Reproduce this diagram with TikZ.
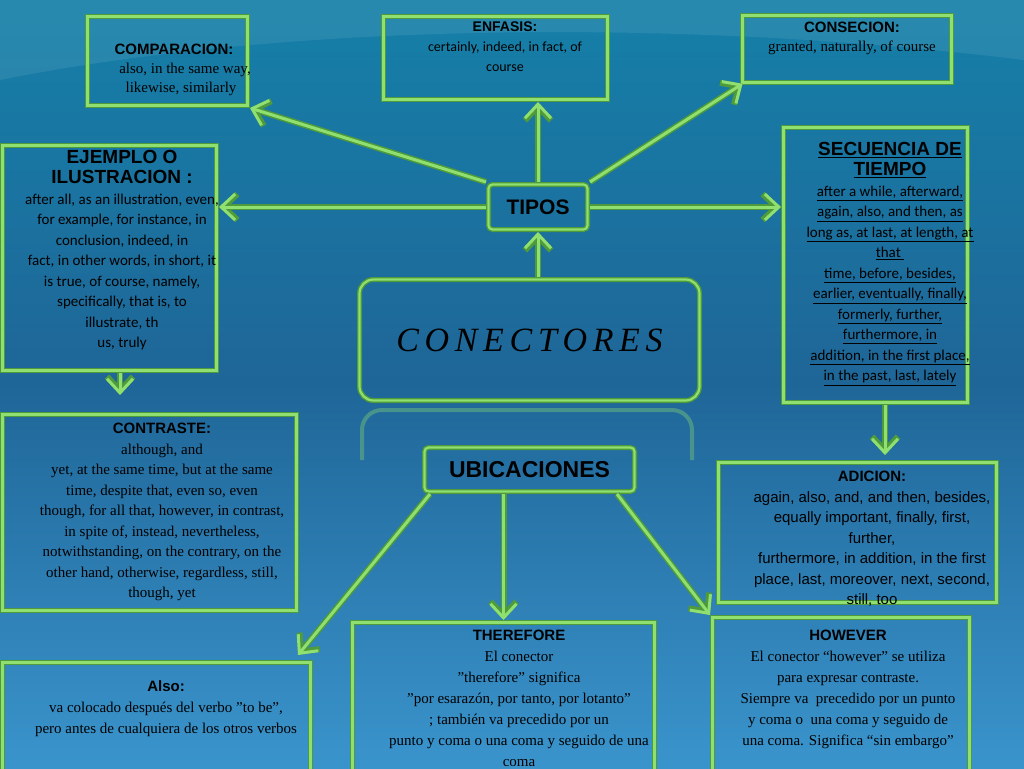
\documentclass[tikz,border=0pt]{standalone}
\usepackage{fontspec}
\setmainfont{Liberation Serif}
\newfontfamily\hd{Liberation Sans}
\newfontfamily\cb{Carlito}
\usetikzlibrary{shapes.misc,arrows.meta}
\definecolor{gedge}{HTML}{4F9A3A}
\definecolor{gfill}{HTML}{8FE070}
\definecolor{bgtop}{HTML}{1580A8}
\definecolor{bgmid}{HTML}{1F6698}
\definecolor{bgbot}{HTML}{3A94CC}
\newcommand{\fsz}[2]{\fontsize{#1}{#2}\selectfont}
\newcommand{\tl}[1]{{\hd\bfseries #1}}
\newcommand{\tlb}[1]{{\hd\bfseries\fontsize{19}{24}\selectfont #1}}
\tikzset{
 cbox/.style={chamfered rectangle, chamfered rectangle corners={north east,south west},
   chamfered rectangle xsep=14pt, draw=gedge, line width=5pt, inner sep=0pt,
   postaction={draw=gfill,line width=2.2pt}, anchor=north west},
 tbox/.style={rectangle, rounded corners=4pt, draw=gedge, line width=5pt,
   postaction={draw=gfill,line width=2.2pt}, align=center, anchor=north west, inner sep=2pt},
 txt/.style={align=center, text=black, inner sep=0pt},
 conn/.style={draw=gedge, line width=6pt, -{Straight Barb[length=14pt,width=26pt,line width=6pt]},
   postaction={draw=gfill, line width=3pt, -{Straight Barb[length=14pt,width=26pt,line width=3pt]}}},
}
\begin{document}
\begin{tikzpicture}[x=1pt,y=-1pt]
\useasboundingbox (0,0) rectangle (1024,768);
\shade[top color=bgtop, bottom color=bgbot, middle color=bgmid] (0,0) rectangle (1024,768);
\fill[white,opacity=0.08] (0,80) .. controls (300,20) and (700,20) .. (1024,60) -- (1024,0) -- (0,0) -- cycle;
\draw[gfill!60!bgmid, line width=4pt, rounded corners=20pt, opacity=0.6] (362,460) -- (362,410) -- (692,410) -- (692,460);

\node[cbox, minimum width=160pt, minimum height=89pt] (compB) at (85,14) {};
\node[cbox, minimum width=224pt, minimum height=83pt] (enfB) at (381,14) {};
\node[cbox, minimum width=209pt, minimum height=67pt] (consB) at (740,13) {};
\node[cbox, minimum width=214pt, minimum height=225pt] (ejB) at (0,143) {};
\node[cbox, minimum width=184pt, minimum height=275pt] (secB) at (781,125) {};
\node[cbox, minimum width=294pt, minimum height=196pt] (contrB) at (0,412) {};
\node[cbox, minimum width=278pt, minimum height=140pt] (adiB) at (716,460) {};
\node[cbox, minimum width=308pt, minimum height=130pt] (alsoB) at (0,660) {};
\node[cbox, minimum width=302pt, minimum height=170pt] (therB) at (350,620) {};
\node[cbox, minimum width=257pt, minimum height=170pt] (howB) at (710,615) {};
\node[tbox, minimum width=99pt, minimum height=45pt, font=\hd\bfseries\fsz{21}{24}] (tipos) at (486,182) {TIPOS};
\node[tbox, rounded corners=14pt, minimum width=340pt, minimum height=121pt, font=\itshape\fsz{34}{36}] (con) at (357,277) {C\,O\,N\,E\,C\,T\,O\,R\,E\,S};
\node[tbox, minimum width=210pt, minimum height=44pt, font=\hd\bfseries\fsz{23}{26}] (ubi) at (422,445) {UBICACIONES};

\node[txt, anchor=north, font=\fsz{15}{19}] (comp) at (178,44)
 {\hspace*{-8pt}\tl{COMPARACION:}\\ \hspace*{14pt}also, in the same way,\\ \hspace*{6pt}likewise, similarly};
\node[txt, anchor=north, font=\cb\fsz{14}{20}] (enf) at (505,22)
 {\tl{ENFASIS:}\\ certainly, indeed, in fact, of\\ course};
\node[txt, anchor=north, font=\fsz{15}{19}] (cons) at (852,22)
 {\tl{CONSECION:}\\ granted, naturally, of course};
\node[txt, anchor=north, font=\cb\fsz{15}{20.5}] (ej) at (122,150)
 {\tlb{EJEMPLO O}\\ \tlb{ILUSTRACION :}\\ after all, as an illustration, even,\\ for example, for instance, in\\ conclusion, indeed, in\\ fact, in other words, in short, it\\ is true, of course, namely,\\ specifically, that is, to\\ illustrate, th\\ us, truly};
\node[txt, anchor=north, font=\cb\fsz{15}{20.5}] (sec) at (890,142)
 {\tlb{\underline{SECUENCIA DE}}\\ \tlb{\underline{TIEMPO}}\\ \underline{after a while, afterward,}\\ \underline{again, also, and then, as}\\ \underline{long as, at last, at length, at}\\ \underline{that }\\ \underline{time, before, besides,}\\ \underline{earlier, eventually, finally,}\\ \underline{formerly, further,}\\ \underline{furthermore, in}\\ \underline{addition, in the first place,}\\ \underline{in the past, last, lately}};
\node[txt, anchor=north, font=\fsz{15}{20.5}] (contr) at (162,423)
 {\tl{CONTRASTE:}\\ although, and\\ yet, at the same time, but at the same\\ time, despite that, even so, even\\ though, for all that, however, in contrast,\\ in spite of, instead, nevertheless,\\ notwithstanding, on the contrary, on the\\ other hand, otherwise, regardless, still,\\ though, yet};
\node[txt, anchor=north, font=\hd\fsz{15}{20.5}] (adi) at (872,471)
 {\tl{ADICION:}\\ again, also, and, and then, besides,\\ equally important, finally, first,\\ further,\\ furthermore, in addition, in the first\\ place, last, moreover, next, second,\\ still, too};
\node[txt, anchor=north, font=\fsz{15}{21}] (also) at (166,680)
 {\tl{Also:}\\ va colocado después del verbo "to be",\\ pero antes de cualquiera de los otros verbos};
\node[txt, anchor=north, font=\fsz{15}{21}] (ther) at (519,630)
 {\tl{THEREFORE}\\ El conector\\ "therefore" significa\\ "por esarazón, por tanto, por lotanto"\\ ; también va precedido por un\\ punto y coma o una coma y seguido de una\\ coma};
\node[txt, anchor=north, font=\fsz{15}{21}] (how) at (848,630)
 {\tl{HOWEVER}\\ El conector “however” se utiliza\\ para expresar contraste.\\ Siempre va \ precedido por un punto\\ y coma o \ una coma y seguido de\\ una coma. Significa “sin embargo”};

\draw[conn] (tipos.north west) -- (compB.south east);
\draw[conn] (tipos.north) -- (enfB.south -| tipos.north);
\draw[conn] (tipos.north east) -- (consB.south west);
\draw[conn] (tipos.west) -- (ejB.east |- tipos.west);
\draw[conn] (tipos.east) -- (secB.west |- tipos.east);
\draw[conn] (con.north -| tipos.south) -- (tipos.south);
\draw[conn] (ejB.south -| 120,0) -- ++(0,22);
\draw[conn] (secB.south -| 885,0) -- ++(0,50);
\draw[conn] (ubi.south -| therB.north) -- (therB.north);
\draw[conn] (ubi.south east) ++(-20,0) -- (howB.north west);
\draw[conn] (ubi.south west) ++(8,0) -- (298,655);
\end{tikzpicture}
\end{document}
